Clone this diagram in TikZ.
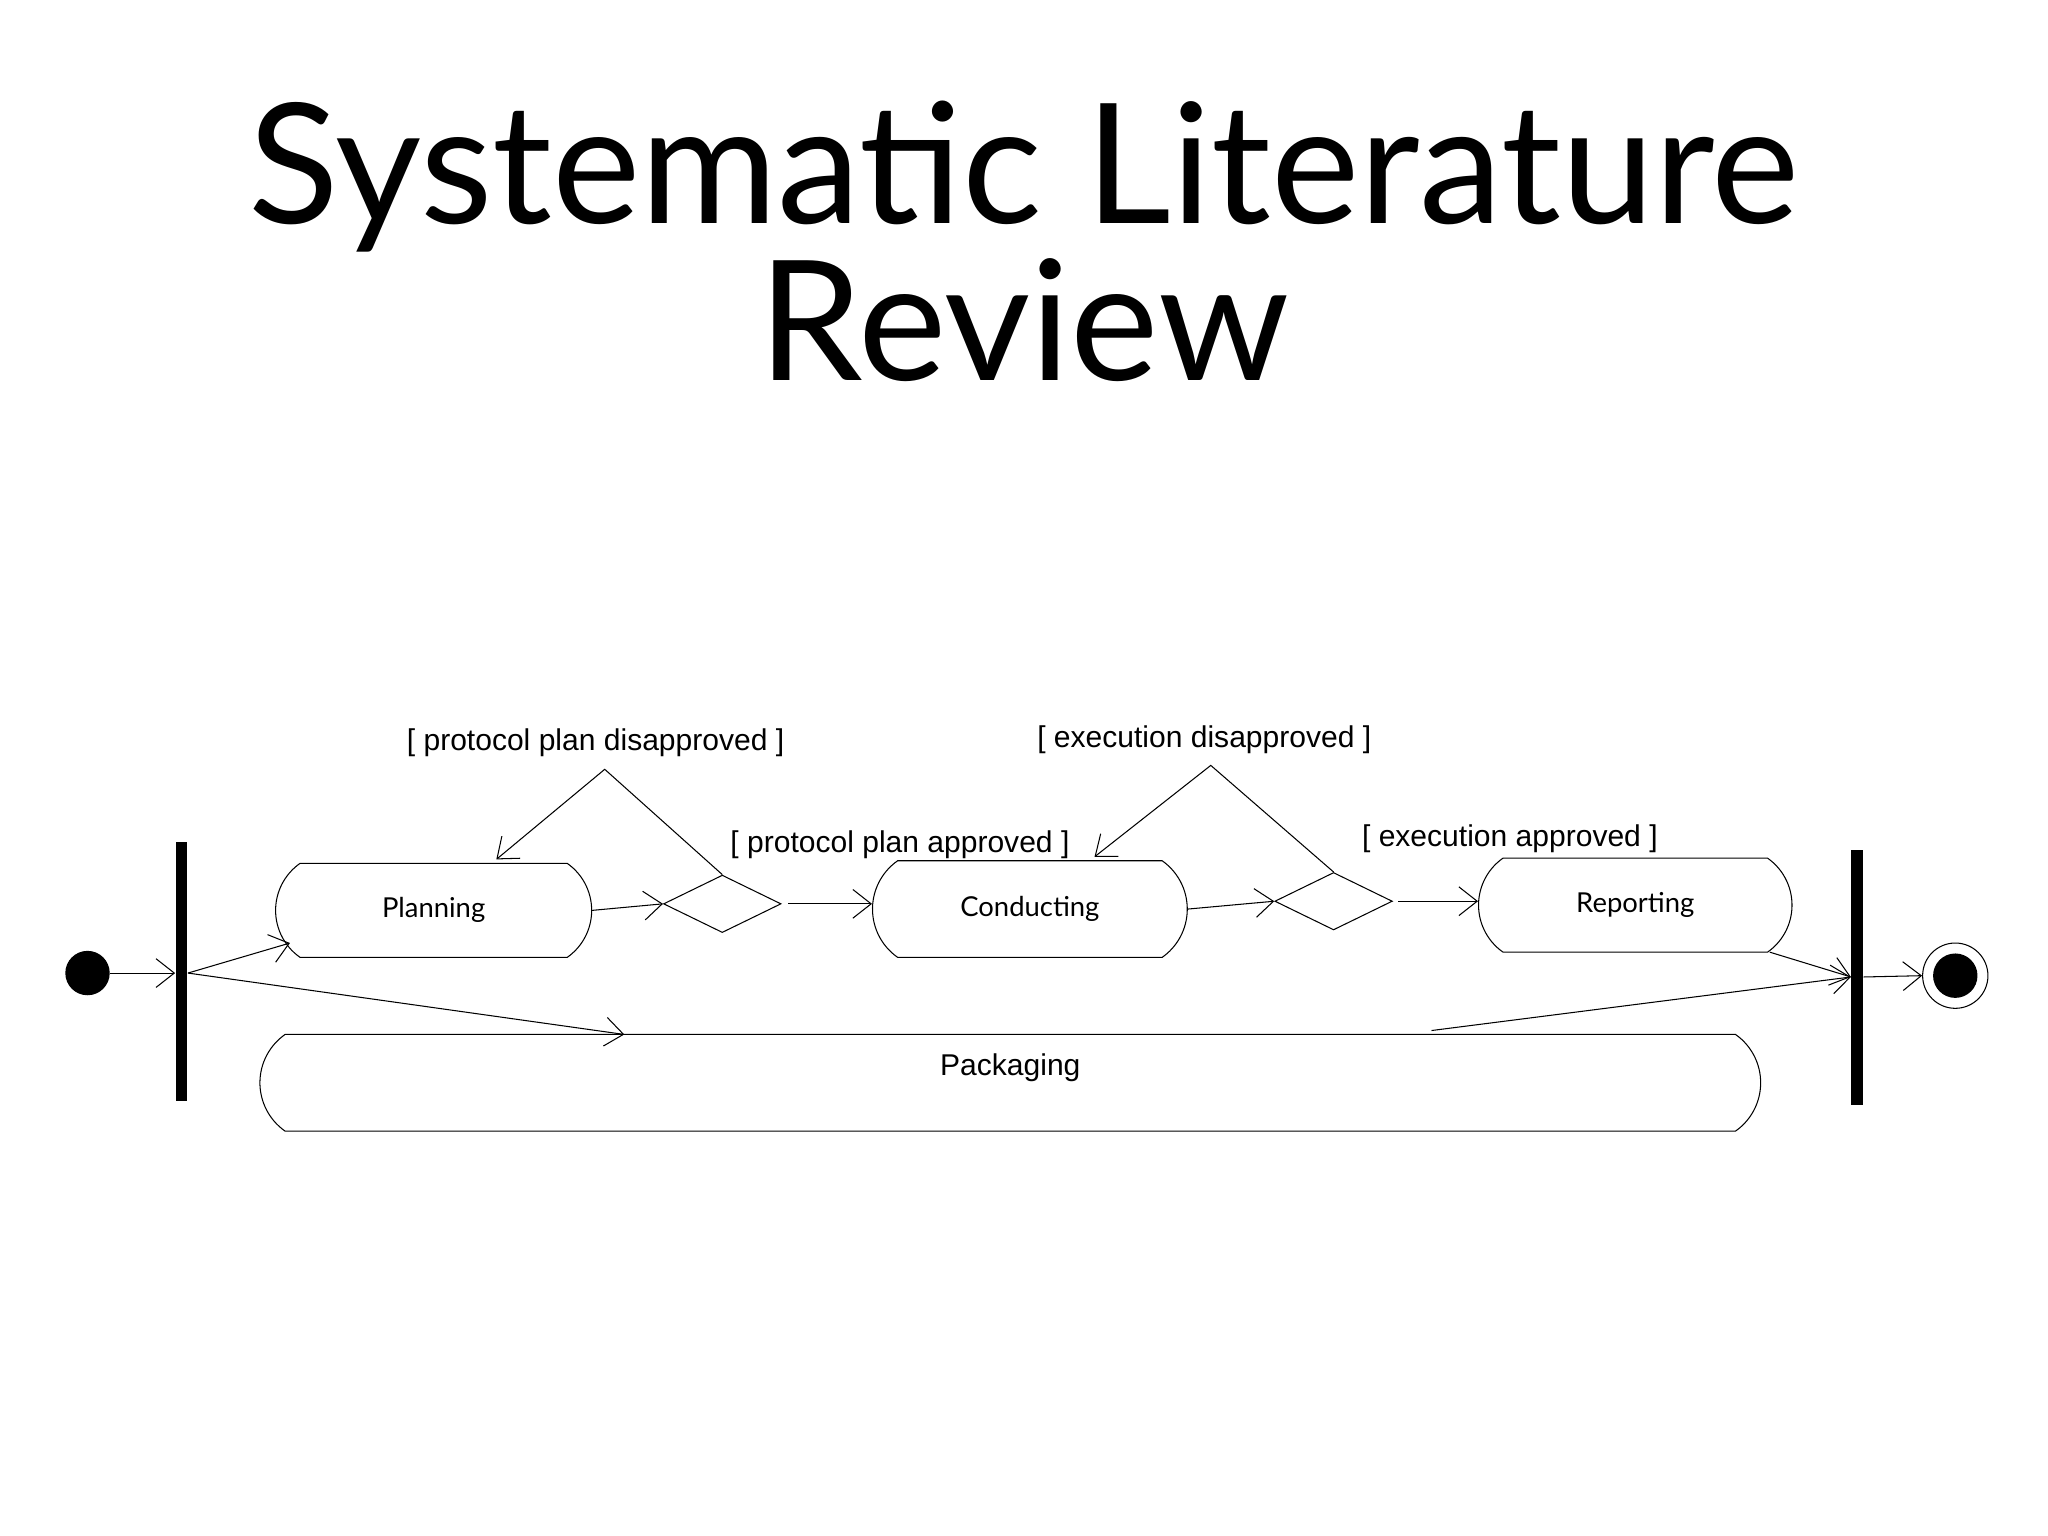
\documentclass[tikz,border=0pt]{standalone}
\usepackage{fontspec}
\setmainfont{Liberation Sans}
\newfontfamily\gill{Lato}
\usetikzlibrary{arrows.meta,shapes.misc,shapes.geometric}
\begin{document}
\begin{tikzpicture}[x=0.5pt,y=-0.5pt,
  act/.style={draw,line width=0.4pt,rounded rectangle,rounded rectangle arc length=110,inner sep=0pt,font=\gill\fontsize{10.5}{12}\selectfont},
  dec/.style={draw,line width=0.4pt,diamond,minimum width=45pt,minimum height=22pt,inner sep=0pt},
  bar/.style={fill=black,inner sep=0pt,minimum width=4.5pt},
  flow/.style={line width=0.4pt,-{Straight Barb[length=7pt,width=11pt,line width=0.4pt]}},
  guard/.style={font=\fontsize{11.5}{13}\selectfont,inner sep=0pt}]
\useasboundingbox (0,0) rectangle (1568,1176);
\node[font=\gill\fontsize{64}{70}\selectfont,align=center] (title) at (784,185) {Systematic Literature\\[-10pt]Review};
\node[circle,fill=black,minimum size=17pt,inner sep=0pt] (init) at (67,745) {};
\node[bar,minimum height=99pt] (fork) at (139,744) {};
\node[act,minimum width=121pt,minimum height=36pt] (plan) at (332,697) {Planning};
\node[dec] (d1) at (553,692) {};
\node[act,minimum width=120.5pt,minimum height=37pt] (cond) at (788.5,696) {Conducting};
\node[dec] (d2) at (1021,690) {};
\node[act,minimum width=120pt,minimum height=36pt] (rep) at (1252,693) {Reporting};
\node[act,minimum width=574.5pt,minimum height=37pt,font=\fontsize{11.5}{13}\selectfont,text depth=14pt] (pack) at (773.5,829) {Packaging};
\node[bar,minimum height=97.5pt] (join) at (1422,748.5) {};
\node[circle,draw,line width=0.4pt,minimum size=25pt,inner sep=0pt] (fin) at (1497,747) {};
\node[circle,fill=black,minimum size=17pt,inner sep=0pt] (finc) at (fin) {};
\node[guard] (g1) at (456,569) {[ protocol plan disapproved ]};
\node[guard] (g2) at (689,647) {[ protocol plan approved ]};
\node[guard] (g3) at (922,566) {[ execution disapproved ]};
\node[guard] (g4) at (1156,642) {[ execution approved ]};
\coordinate (k1) at (463,589);
\coordinate (k2) at (927,586);
\draw[flow] (init.east) -- (fork.west |- init);
\draw[flow] (fork.east |- 0,745) -- (222,722);
\draw[flow] (fork.east |- 0,745) -- (478,792);
\draw[flow] (plan.east) -- (d1.west);
\draw[flow] (d1.north) -- (k1) -- (380,658);
\draw[flow] ([xshift=2.5pt]d1.east) -- (cond.west |- d1.east);
\draw[flow] (cond.east) -- (d2.west);
\draw[flow] (d2.north) -- (k2) -- (838,656);
\draw[flow] ([xshift=2pt]d2.east) -- (rep.west |- d2.east);
\draw[flow] (1355,729) -- (join.west |- 0,748);
\draw[flow] (1096,789) -- (join.west |- 0,748);
\draw[flow] (join.east |- 0,748) -- (fin.west);
\end{tikzpicture}
\end{document}
